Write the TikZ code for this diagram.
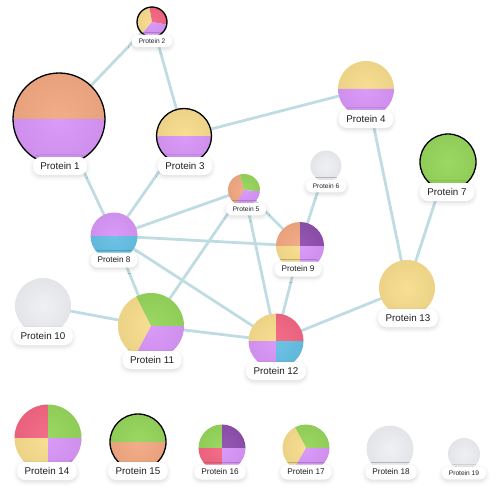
\documentclass[tikz,border=0pt]{standalone}
\usepackage{fontspec}
\setmainfont{Liberation Sans}
\usetikzlibrary{shadows.blur}
\definecolor{cor}{HTML}{F2A47C}
\definecolor{cpu}{HTML}{D690F8}
\definecolor{cye}{HTML}{F8DB86}
\definecolor{cgr}{HTML}{90D452}
\definecolor{cre}{HTML}{F45E7C}
\definecolor{cbl}{HTML}{5CBDE4}
\definecolor{cdp}{HTML}{8A46AA}
\definecolor{cgy}{HTML}{EEEFF3}
\definecolor{ced}{HTML}{BFDCE2}
\definecolor{ctx}{HTML}{1E1E22}
\newcommand\sector[5]{\fill[#5] (#1.center) -- ++(#3:#2) arc[start angle=#3,end angle=#4,radius=#2] -- cycle;}
\newcommand\halves[4]{\sector{#1}{#2}{0}{180}{#3}\sector{#1}{#2}{180}{360}{#4}}
\newcommand\quads[6]{\sector{#1}{#2}{90}{180}{#3}\sector{#1}{#2}{0}{90}{#4}\sector{#1}{#2}{180}{270}{#5}\sector{#1}{#2}{270}{360}{#6}}
\newcommand\gloss[2]{\shade[fill opacity=0.10, inner color=white, outer color=black!45] (#1.center) circle[radius=#2];}
\begin{document}
\begin{tikzpicture}[x=1pt,y=1pt,
  dot/.style={circle, inner sep=0pt, minimum size=#1},
  edge/.style={ced, line width=2.8pt},
  rim/.style={line width=1.3pt, black},
  lab/.style={fill=white, text=ctx, inner ysep=0pt,
    blur shadow={shadow xshift=0pt, shadow yshift=-2pt, shadow blur radius=4pt, shadow opacity=14}},
  lbig/.style={lab, font=\fontsize{9.8}{10}\selectfont, minimum height=18pt, inner xsep=7.5pt, rounded corners=8pt},
  lmid/.style={lab, font=\fontsize{8.2}{9}\selectfont, minimum height=15pt, inner xsep=7pt, rounded corners=7pt},
  lsmall/.style={lab, font=\fontsize{6.6}{7}\selectfont, minimum height=12.5pt, inner xsep=7pt, rounded corners=6pt}]
\useasboundingbox (0,0) rectangle (500,499);
% circle nodes
\node[dot=92pt] (p1) at (59,380) {};
\node[dot=30pt] (p2) at (152,477) {};
\node[dot=55pt] (p3) at (184,363) {};
\node[dot=56pt] (p4) at (366,410) {};
\node[dot=32pt] (p5) at (244,309) {};
\node[dot=31pt] (p6) at (326,333) {};
\node[dot=56pt] (p7) at (448,337) {};
\node[dot=47pt] (p8) at (114,263) {};
\node[dot=48pt] (p9) at (300,253) {};
\node[dot=56pt] (p10) at (43,193) {};
\node[dot=66pt] (p11) at (151,173) {};
\node[dot=55pt] (p12) at (276,158) {};
\node[dot=56pt] (p13) at (407,211) {};
\node[dot=67pt] (p14) at (48,61) {};
\node[dot=56pt] (p15) at (138,57) {};
\node[dot=47pt] (p16) at (222,51) {};
\node[dot=47pt] (p17) at (306,51) {};
\node[dot=47pt] (p18) at (390,50) {};
\node[dot=32pt] (p19) at (464,45) {};
% edges
\draw[edge] (p1.center) -- (p2.center);
\draw[edge] (p2.center) -- (p3.center);
\draw[edge] (p3.center) -- (p4.center);
\draw[edge] (p1.center) -- (p8.center);
\draw[edge] (p3.center) -- (p8.center);
\draw[edge] (p4.center) -- (p13.center);
\draw[edge] (p7.center) -- (p13.center);
\draw[edge] (p6.center) -- (p9.center);
\draw[edge] (p8.center) -- (p5.center);
\draw[edge] (p8.center) -- (p9.center);
\draw[edge] (p8.center) -- (p12.center);
\draw[edge] (p8.center) -- (p11.center);
\draw[edge] (p5.center) -- (p11.center);
\draw[edge] (p5.center) -- (p12.center);
\draw[edge] (p5.center) -- (p9.center);
\draw[edge] (p9.center) -- (p12.center);
\draw[edge] (p10.center) -- (p11.center);
\draw[edge] (p11.center) -- (p12.center);
\draw[edge] (p12.center) -- (p13.center);
% fills
\halves{p1}{46}{cor}{cpu}\gloss{p1}{46}\draw[rim] (p1) circle[radius=46];
\sector{p2}{15}{100}{230}{cye}\sector{p2}{15}{-10}{100}{cre}\sector{p2}{15}{230}{350}{cpu}\gloss{p2}{15}\draw[rim] (p2) circle[radius=15];
\halves{p3}{27.5}{cye}{cpu}\gloss{p3}{27.5}\draw[rim] (p3) circle[radius=27.5];
\halves{p4}{28}{cye}{cpu}\gloss{p4}{28}
\sector{p5}{16}{105}{240}{cor}\sector{p5}{16}{-5}{105}{cgr}\sector{p5}{16}{240}{355}{cpu}\gloss{p5}{16}
\fill[cgy] (p6) circle[radius=15.5];\gloss{p6}{15.5}
\fill[cgr] (p7) circle[radius=28];\gloss{p7}{28}\draw[rim] (p7) circle[radius=28];
\halves{p8}{23.5}{cpu}{cbl}\gloss{p8}{23.5}
\quads{p9}{24}{cor}{cdp}{cye}{cpu}\gloss{p9}{24}
\fill[cgy] (p10) circle[radius=28];\gloss{p10}{28}
\sector{p11}{33}{0}{117}{cgr}\sector{p11}{33}{117}{242}{cye}\sector{p11}{33}{242}{360}{cpu}\gloss{p11}{33}
\quads{p12}{27.5}{cye}{cre}{cpu}{cbl}\gloss{p12}{27.5}
\fill[cye] (p13) circle[radius=28];\gloss{p13}{28}
\quads{p14}{33.5}{cre}{cgr}{cye}{cpu}\gloss{p14}{33.5}
\halves{p15}{28}{cgr}{cor}\gloss{p15}{28}\draw[rim] (p15) circle[radius=28];
\quads{p16}{23.5}{cgr}{cdp}{cre}{cpu}\gloss{p16}{23.5}
\sector{p17}{23.5}{0}{118}{cgr}\sector{p17}{23.5}{118}{240}{cye}\sector{p17}{23.5}{240}{360}{cpu}\gloss{p17}{23.5}
\fill[cgy] (p18) circle[radius=23.5];\gloss{p18}{23.5}
\fill[cgy] (p19) circle[radius=16];\gloss{p19}{16}
% labels
\node[lbig] (l1) at (60,333) {Protein 1};
\node[lsmall] (l2) at (152,458) {Protein 2};
\node[lbig] (l3) at (185,333) {Protein 3};
\node[lbig] (l4) at (366,380) {Protein 4};
\node[lsmall] (l5) at (246,290) {Protein 5};
\node[lsmall] (l6) at (326,313) {Protein 6};
\node[lbig] (l7) at (447,307) {Protein 7};
\node[lmid] (l8) at (114,239) {Protein 8};
\node[lmid] (l9) at (298,230) {Protein 9};
\node[lbig] (l10) at (43,163) {Protein 10};
\node[lbig] (l11) at (152,139) {Protein 11};
\node[lbig] (l12) at (276,128) {Protein 12};
\node[lbig] (l13) at (408,181) {Protein 13};
\node[lbig] (l14) at (47,28) {Protein 14};
\node[lbig] (l15) at (138,28) {Protein 15};
\node[lmid] (l16) at (220,27) {Protein 16};
\node[lmid] (l17) at (306,27) {Protein 17};
\node[lmid] (l18) at (391,27) {Protein 18};
\node[lsmall] (l19) at (464,26) {Protein 19};
\end{tikzpicture}
\end{document}
